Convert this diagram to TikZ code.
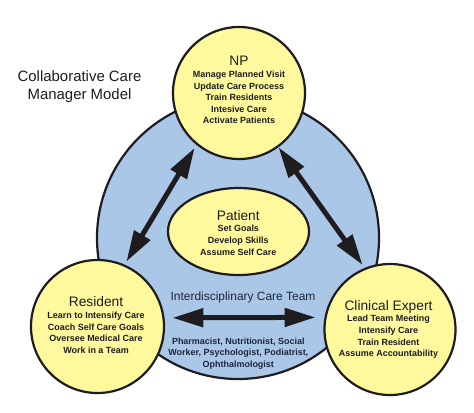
\documentclass[tikz,border=0pt]{standalone}
\usepackage{fontspec}
\setmainfont{Liberation Sans}
\usetikzlibrary{arrows.meta,shapes.geometric}
\definecolor{yel}{RGB}{255,249,158}
\definecolor{blu}{RGB}{171,199,232}
\definecolor{ink}{RGB}{30,28,30}
\definecolor{navy}{RGB}{28,38,60}
\tikzset{
  ycirc/.style={circle, draw=ink, line width=2.2bp, fill=yel, outer sep=4.5bp, inner sep=0pt},
  bigarrow/.style={draw=ink, line width=5bp, {Triangle[length=31bp,width=18bp]}-{Triangle[length=31bp,width=18bp]}},
  hdr/.style={anchor=base, inner sep=0pt, text=ink, font=\fontsize{13.8}{16}\selectfont},
  lst/.style={anchor=base, inner sep=0pt, text=ink, font=\fontsize{9}{11}\selectfont\bfseries},
  blst/.style={anchor=base, inner sep=0pt, text=navy, font=\fontsize{9}{11}\selectfont\bfseries},
  ttl/.style={anchor=base, inner sep=0pt, text=ink, font=\fontsize{15}{18}\selectfont}
}
\begin{document}
\begin{tikzpicture}[x=1bp, y=-1bp]
\useasboundingbox[fill=white] (0,0) rectangle (474,412);
% team circle
\node[circle, draw=ink, line width=2.2bp, fill=blu, minimum size=282bp, inner sep=0pt] (team) at (238,238) {};
% patient
\node[ellipse, draw=ink, line width=2.2bp, fill=yel, minimum width=141bp, minimum height=87bp, inner sep=0pt] (pat) at (238.5,231.5) {};
% role circles
\node[ycirc, minimum size=132bp] (np) at (239,93) {};
\node[ycirc, minimum size=133bp] (res) at (97.5,326.5) {};
\node[ycirc, minimum size=131bp] (ce) at (390,329.5) {};
% arrows
\draw[bigarrow] (np.231.5) -- (res.66.3);
\draw[bigarrow, shorten <=-3.5bp] (np.306.2) -- (ce.113.4);
\draw[bigarrow, shorten <=4.4bp, shorten >=5.5bp] (res.7.85) -- (ce.170.3);
% title
\node[ttl] (t1) at (79.5,81.7) {Collaborative Care};
\node[ttl] (t2) at (79.5,99.3) {Manager Model};
% NP
\node[hdr] (nph) at (239,65.7) {NP};
\node[lst] (np1) at (239,77.3) {Manage Planned Visit};
\node[lst] (np2) at (239,89) {Update Care Process};
\node[lst] (np3) at (239,100.6) {Train Residents};
\node[lst] (np4) at (239,112.2) {Intesive Care};
\node[lst] (np5) at (239,123.7) {Activate Patients};
% Patient
\node[hdr] (path) at (238.3,220) {Patient};
\node[lst] (pa1) at (238.3,231.7) {Set Goals};
\node[lst] (pa2) at (238.3,243.4) {Develop Skills};
\node[lst] (pa3) at (238.3,255) {Assume Self Care};
% Resident
\node[hdr] (resh) at (96,306.7) {Resident};
\node[lst] (re1) at (96,318.6) {Learn to Intensify Care};
\node[lst] (re2) at (96,330.2) {Coach Self Care Goals};
\node[lst] (re3) at (96,341.8) {Oversee Medical Care};
\node[lst] (re4) at (96,353.4) {Work in a Team};
% Clinical Expert
\node[hdr] (ceh) at (388.5,310.3) {Clinical Expert};
\node[lst] (ce1) at (388.5,321.8) {Lead Team Meeting};
\node[lst] (ce2) at (388.5,333.5) {Intensify Care};
\node[lst] (ce3) at (388.5,345.2) {Train Resident};
\node[lst] (ce4) at (388.5,356.9) {Assume Accountability};
% team texts
\node[anchor=base, inner sep=0pt, text=navy, font=\fontsize{12}{14}\selectfont] (teamh) at (243,300) {Interdisciplinary Care Team};
\node[blst] (tm1) at (238.3,344) {Pharmacist, Nutritionist, Social};
\node[blst] (tm2) at (238.3,355.7) {Worker, Psychologist, Podiatrist,};
\node[blst] (tm3) at (238.3,367.3) {Ophthalmologist};
\end{tikzpicture}
\end{document}
